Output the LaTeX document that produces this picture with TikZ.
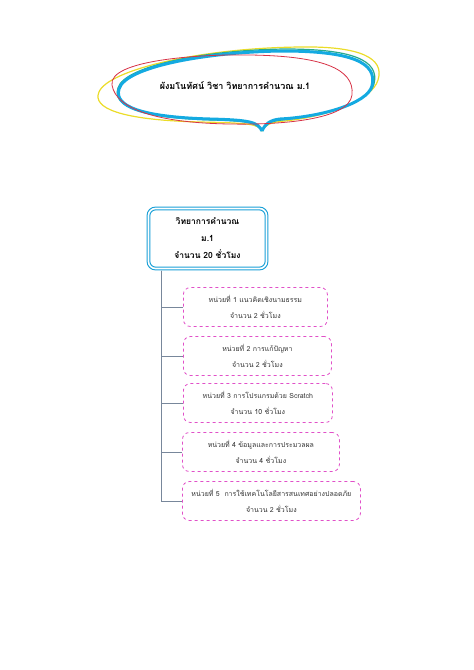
\documentclass[tikz,border=0pt]{standalone}
\usepackage{fontspec}
\newfontfamily\thaifont[Script=Thai]{Loma}
\definecolor{bubbleblue}{RGB}{20,170,225}
\definecolor{bubblegreen}{RGB}{40,170,140}
\definecolor{bubblered}{RGB}{215,50,70}
\definecolor{bubbleyellow}{RGB}{235,220,40}
\definecolor{rootblue}{RGB}{25,160,215}
\definecolor{unitpink}{RGB}{225,80,200}
\definecolor{branchgray}{RGB}{120,135,155}
\tikzset{
  rootbox/.style={draw=rootblue, double=white, double distance=1.6pt, line width=1.1pt,
    rounded corners=7pt, align=center, font=\thaifont\bfseries\fontsize{8.5}{17}\selectfont,
    minimum width=118pt, minimum height=60pt},
  unitbox/.style={draw=unitpink, dashed, line width=0.8pt, rounded corners=7pt, align=center,
    anchor=west, text=black!80, font=\thaifont\fontsize{7}{16}\selectfont,
    minimum height=39pt, inner xsep=4pt}
  ,
  branch/.style={draw=branchgray, line width=0.9pt}
}
\begin{document}
\begin{tikzpicture}[x=1pt,y=-1pt]
  \useasboundingbox (0,0) rectangle (474,670);

  % Title bubble
  \draw[bubbleyellow, line width=1.2pt] (262,131) .. controls (258,124) and (250,123) .. (200,122)
    .. controls (120,120) and (92,108) .. (99,92) .. controls (108,70) and (200,48) .. (300,47)
    .. controls (360,46) and (385,58) .. (378,80) .. controls (372,100) and (330,116) .. (285,121)
    .. controls (272,122) and (266,124) .. (262,131);
  \draw[bubblegreen, line width=1.2pt] (262,131) .. controls (258,123) and (250,121) .. (212,120)
    .. controls (140,118) and (112,106) .. (118,88) .. controls (124,66) and (205,50) .. (285,49)
    .. controls (352,49) and (380,60) .. (374,84) .. controls (369,103) and (322,116) .. (282,120)
    .. controls (271,121) and (265,124) .. (262,131);
  \draw[bubbleblue, line width=3pt] (262,131) .. controls (258,122) and (250,120) .. (210,119)
    .. controls (140,117) and (114,106) .. (119,89) .. controls (125,67) and (205,52) .. (282,51)
    .. controls (350,51) and (378,62) .. (372,86) .. controls (367,104) and (320,117) .. (280,119)
    .. controls (270,120) and (265,124) .. (262,131);
  \draw[bubblered, line width=0.8pt] (112,85) .. controls (108,60) and (200,54) .. (250,55)
    .. controls (320,56) and (355,68) .. (352,95) .. controls (349,120) and (280,125) .. (230,124)
    .. controls (160,123) and (116,110) .. (112,85);
  \node[font=\thaifont\bfseries\fontsize{9}{11}\selectfont] (title) at (235,86)
    {ผังมโนทัศน์ วิชา วิทยาการคำนวณ ม.1};

  % Root
  \node[rootbox] (root) at (207.5,238.5) {วิทยาการคำนวณ\\ม.1\\จำนวน 20 ชั่วโมง};

  % Units
  \node[unitbox, minimum width=144pt] (u1) at (183,307) {หน่วยที่ 1 แนวคิดเชิงนามธรรม\\จำนวน 2 ชั่วโมง};
  \node[unitbox, minimum width=148pt] (u2) at (183,356) {หน่วยที่ 2 การแก้ปัญหา\\จำนวน 2 ชั่วโมง};
  \node[unitbox, minimum width=149pt] (u3) at (183,403) {หน่วยที่ 3 การโปรแกรมด้วย Scratch\\จำนวน 10 ชั่วโมง};
  \node[unitbox, minimum width=157pt] (u4) at (182,452) {หน่วยที่ 4 ข้อมูลและการประมวลผล\\จำนวน 4 ชั่วโมง};
  \node[unitbox, minimum width=178pt] (u5) at (182,501) {หน่วยที่ 5~~การใช้เทคโนโลยีสารสนเทศอย่างปลอดภัย\\จำนวน 2 ชั่วโมง};

  % Branches
  \coordinate (trunk) at (161,270.5);
  \draw[branch] (trunk) |- (u1.west);
  \draw[branch] (trunk) |- (u2.west);
  \draw[branch] (trunk) |- (u3.west);
  \draw[branch] (trunk) |- (u4.west);
  \draw[branch] (trunk) |- (u5.west);
\end{tikzpicture}
\end{document}
